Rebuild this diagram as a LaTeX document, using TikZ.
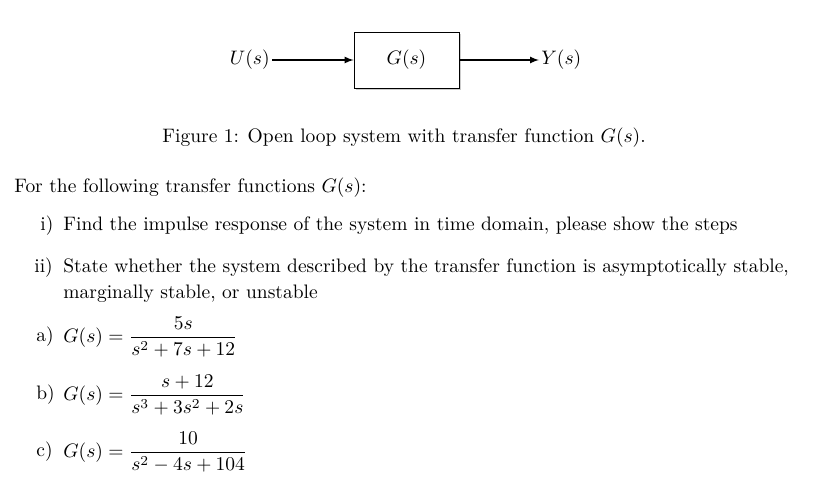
\documentclass[tikz,border=0pt]{standalone}
\usepackage{amsmath}
\usetikzlibrary{shadows,arrows,positioning}

\begin{document}
\begin{tikzpicture}
[x=0.513pt,y=-0.513pt,
    block/.style={draw,fill=white,drop shadow={shadow xshift=1.2pt,shadow yshift=-1.2pt,opacity=.4},minimum width=53.9pt,minimum height=28.7pt,inner sep=0pt},
    txt/.style={anchor=base west,inner sep=0pt},
    sig/.style={>=latex, semithick}]
\useasboundingbox (0,0) rectangle (830,481);
%%%%% block diagram
\node (G) [block] at (406.5,60) {$G(s)$};
\node (U) [anchor=east,inner sep=1pt] at (272,60) {$U(s)$};
\node (Y) [anchor=west,inner sep=1pt] at (539,60) {$Y(s)$};
\draw[sig,->] (U) -- (G);
\draw[sig,->] (G) -- (Y);
%% caption
\node (cap) [txt] at (162,143) {Figure 1: Open loop system with transfer function $G(s)$.};
%% question
\node (q) [txt] at (14,193) {For the following transfer functions $G(s)$:};
\node (i1) [txt] at (40,230) {i)};
\node (t1) [txt] at (63,230) {Find the impulse response of the system in time domain, please show the steps};
\node (i2) [txt] at (34,272) {ii)};
\node (t2) [txt] at (63,272) {State whether the system described by the transfer function is asymptotically stable,};
\node (t3) [txt] at (63,298) {marginally stable, or unstable};
%% transfer functions
\node (la) [txt] at (36,341) {a)};
\node (fa) [anchor=west,inner sep=0pt] at (63,337) {$G(s)=\dfrac{5s}{s^2+7s+12}$};
\node (lb) [txt] at (36,399) {b)};
\node (fb) [anchor=west,inner sep=0pt] at (63,395) {$G(s)=\dfrac{s+12}{s^3+3s^2+2s}$};
\node (lc) [txt] at (36,456) {c)};
\node (fc) [anchor=west,inner sep=0pt] at (63,452) {$G(s)=\dfrac{10}{s^2-4s+104}$};
\end{tikzpicture}
\end{document}
